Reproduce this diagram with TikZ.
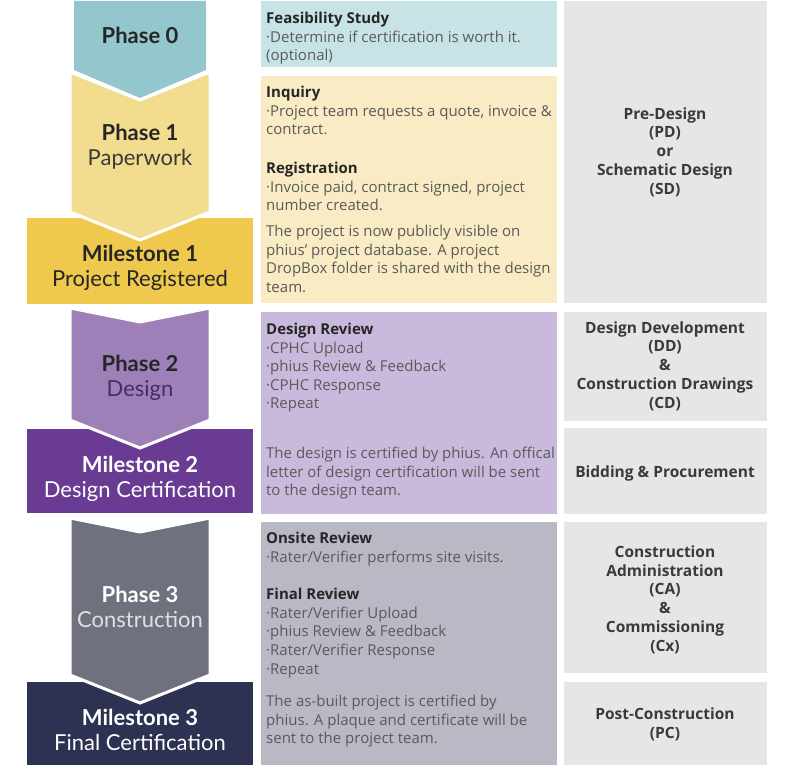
\documentclass[tikz,border=0pt]{standalone}
\usepackage{fontspec}
\setmainfont{Open Sans}
\newfontfamily\latofont{Lato}
\definecolor{feasfill}{HTML}{C8E3E6}
\definecolor{phasezero}{HTML}{93C6CD}
\definecolor{phaseone}{HTML}{F2DD8E}
\definecolor{mileone}{HTML}{EEC94D}
\definecolor{paperfill}{HTML}{F9ECC5}
\definecolor{phasetwo}{HTML}{9E80B9}
\definecolor{miletwo}{HTML}{693B93}
\definecolor{designfill}{HTML}{C9B9DD}
\definecolor{phasethree}{HTML}{6F717F}
\definecolor{milethree}{HTML}{2D3152}
\definecolor{buildfill}{HTML}{B9B9C5}
\definecolor{stagefill}{HTML}{E6E6E6}
\definecolor{bodygray}{HTML}{5A5A5A}
\definecolor{headgray}{HTML}{262626}
\definecolor{labelgray}{HTML}{3A3A3A}
\begin{document}
\begin{tikzpicture}[x=1pt, y=-1pt,
  stage/.style={anchor=base, align=center, inner sep=0, font=\latofont\fontsize{22}{25}\selectfont},
  info/.style={anchor=north west, inner sep=0, align=left, text=bodygray, font=\fontsize{15}{18.6}\selectfont},
  period/.style={anchor=base, align=center, inner sep=0, text=labelgray, font=\bfseries\fontsize{15.5}{18.7}\selectfont}]
\useasboundingbox (0,0) rectangle (785,765);
% middle and right columns
\fill[feasfill](261,1) rectangle (557,67);
\fill[paperfill](261,76) rectangle (557,303);
\fill[designfill](261,312) rectangle (557,514);
\fill[buildfill](261,522) rectangle (557,765);
\foreach \ya/\yb in {1/303, 312/421, 428/514, 522/673, 682/765}
  \fill[stagefill](564,\ya) rectangle (767,\yb);
% milestones
\fill[mileone](27,218) rectangle (253,304);
\fill[miletwo](27,429) rectangle (253,513);
\fill[milethree](27,682) rectangle (253,765);
% phase arrows
\fill[phasezero](74,1)--(206,1)--(206,70)--(140,98)--(74,70)--cycle;
\foreach \top/\dep/\bot/\col in {72/28/212/phaseone, 308/14/420/phasetwo, 518/14/675/phasethree}
  \filldraw[white, line width=3pt, fill=\col](70,\top)--(140,\top+\dep)--(210,\top)--(210,\bot)--(140,\bot+28)--(70,\bot)--cycle;

\node[stage, text=headgray, font=\latofont\bfseries\fontsize{22}{25}\selectfont] (p0) at (140,44){Phase 0};
\node[stage, text=headgray] (p1) at (140,166){\textbf{Phase 1}\\ \color{labelgray}Paperwork};
\node[stage, text=headgray] (m1) at (140,286){\textbf{Milestone 1}\\Project Registered};
\node[stage, text=headgray] (p2) at (140,396){\textbf{Phase 2}\\ \color{miletwo!70!black}Design};
\node[stage, text=white] (m2) at (140,497){\textbf{Milestone 2}\\Design Certification};
\node[stage, text=white] (p3) at (140,627){\textbf{Phase 3}\\ \color{white!88!black}Construction};
\node[stage, text=white] (m3) at (140,750){\textbf{Milestone 3}\\Final Certification};

\node[info] (feas) at (266,12){{\color{headgray}\bfseries Feasibility Study}\\·Determine if certification is worth it.\\(optional)};
\node[info] (inquiry) at (266,86){{\color{headgray}\bfseries Inquiry}\\·Project team requests a quote, invoice \&\\contract.};
\node[info] (regist) at (266,162){{\color{headgray}\bfseries Registration}\\·Invoice paid, contract signed, project\\number created.};
\node[info] (public) at (266,225){The project is now publicly visible on\\phius’ project database. A project\\DropBox folder is shared with the design\\team.};
\node[info] (review) at (266,323){{\color{headgray}\bfseries Design Review}\\·CPHC Upload\\·phius Review \& Feedback\\·CPHC Response\\·Repeat};
\node[info] (letter) at (266,447){The design is certified by phius. An offical\\letter of design certification will be sent\\to the design team.};
\node[info] (onsite) at (266,532){{\color{headgray}\bfseries Onsite Review}\\·Rater/Verifier performs site visits.};
\node[info] (final) at (266,588){{\color{headgray}\bfseries Final Review}\\·Rater/Verifier Upload\\·phius Review \& Feedback\\·Rater/Verifier Response\\·Repeat};
\node[info] (plaque) at (266,695){The as-built project is certified by\\phius. A plaque and certificate will be\\sent to the project team.};

\node[period] (pd) at (665,194){Pre-Design\\(PD)\\or\\Schematic Design\\(SD)};
\node[period] (dd) at (665,408){Design Development\\(DD)\\\&\\Construction Drawings\\(CD)};
\node[period] (bid) at (665,477){Bidding \& Procurement};
\node[period] (ca) at (665,651){Construction\\Administration\\(CA)\\\&\\Commissioning\\(Cx)};
\node[period] (pc) at (665,738){Post-Construction\\(PC)};

\end{tikzpicture}
\end{document}
